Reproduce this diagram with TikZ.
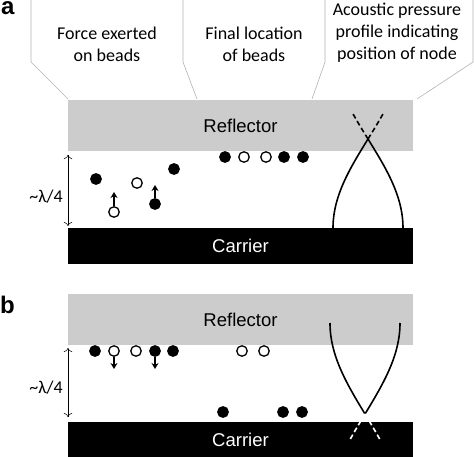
\documentclass[tikz,border=0pt]{standalone}
\usepackage{fontspec}
\setmainfont{Liberation Sans}
\newfontfamily\calfont{Carlito}
\usetikzlibrary{arrows.meta}

\tikzset{
    bead/.style={circle, draw=black, line width=1.3pt, minimum size=10.5pt, inner sep=0pt},
    full/.style={bead, fill=black},
    hollow/.style={bead, fill=white},
    callout/.style={draw=gray!60, line width=0.6pt},
    calltext/.style={align=center, font=\calfont\fontsize{18}{22}\selectfont},
    push/.style={-{Stealth[length=6pt, width=7pt]}, line width=1.5pt},
    gap/.style={{To[length=4pt]}-{To[length=4pt]}, line width=0.5pt},
    quarter/.style={anchor=east, font=\calfont\fontsize{18}{20}\selectfont, inner sep=1pt},
    profile/.style={line width=1.6pt},
    plate/.style={minimum width=345pt, minimum height=51pt, inner sep=0pt, font=\fontsize{18.5}{22}\selectfont},
    base/.style={fill=black, text=white, minimum width=345pt, minimum height=36pt, inner sep=0pt, font=\fontsize{18.5}{22}\selectfont},
    panel/.style={font=\bfseries\fontsize{24}{26}\selectfont, inner sep=0pt, anchor=base west}
}

\begin{document}
\begin{tikzpicture}[x=1pt, y=-1pt]
    \useasboundingbox (0,0) rectangle (474,457);

    % callouts above panel a
    \coordinate (c1) at (68,99);
    \coordinate (c2) at (197,99);
    \coordinate (c3) at (312,99);
    \coordinate (c4) at (417,99);
    \draw[callout] (31,0) -- (31,62) -- (c1);
    \draw[callout] (183,0) -- (183,62) -- (c2);
    \draw[callout] (325,0) -- (325,62) -- (c3);
    \draw[callout] (473,0) -- (473,62) -- (c4);
    \node[calltext] (t1) at (107,44) {Force exerted\\on beads};
    \node[calltext] (t2) at (254,44) {Final location\\of beads};
    \node[calltext] (t3) at (397,33) {Acoustic pressure\\profile indicating\\position of node};

    % panel a: beads pushed up towards the node
    \begin{scope}
        \node[panel] (la) at (1,15) {a};
        \node[plate, fill=gray!40] (refla) at (240.5,125.5) {Reflector};
        \node[base] (cara) at (240.5,246) {Carrier};

        \coordinate (atop) at (68,155);
        \coordinate (abot) at (68,226);
        \draw[gap] (atop) -- (abot);
        \node[quarter] (qa) at (64,197) {\textasciitilde λ/4};

        \node[full] (a1) at (96,179) {};
        \node[hollow] (a2) at (114,212) {};
        \node[hollow] (a3) at (137,183) {};
        \node[full] (a4) at (155,204) {};
        \node[full] (a5) at (174,169) {};
        \coordinate (a2up) at (114,192);
        \coordinate (a4up) at (155,185);
        \draw[push] (a2) -- (a2up);
        \draw[push] (a4) -- (a4up);

        \node[full] (a6) at (225,157) {};
        \node[hollow] (a7) at (244,157) {};
        \node[hollow] (a8) at (266,157) {};
        \node[full] (a9) at (284,157) {};
        \node[full] (a10) at (303,157) {};

        % pressure profile, node at the reflector
        \draw[profile, domain=0:1, samples=40] plot ({368-35*cos(90*\x)}, {228-89*\x});
        \draw[profile, domain=0:1, samples=40] plot ({368+35*cos(90*\x)}, {228-89*\x});
        \draw[profile, dash pattern=on 5pt off 3pt, domain=1:1.3, samples=10] plot ({368-35*cos(90*\x)}, {228-89*\x});
        \draw[profile, dash pattern=on 5pt off 3pt, domain=1:1.3, samples=10] plot ({368+35*cos(90*\x)}, {228-89*\x});
    \end{scope}

    % panel b: beads pushed down towards the node
    \begin{scope}[yshift=-194pt]
        \node[panel] (lb) at (0,119) {b};
        \node[plate, fill=gray!40] (reflb) at (240.5,125.5) {Reflector};
        \node[base] (carb) at (240.5,246) {Carrier};

        \coordinate (btop) at (68,154);
        \coordinate (bbot) at (68,223);
        \draw[gap] (btop) -- (bbot);
        \node[quarter] (qb) at (64,194) {\textasciitilde λ/4};

        \node[full] (b1) at (95,157) {};
        \node[hollow] (b2) at (114,157) {};
        \node[hollow] (b3) at (136,157) {};
        \node[full] (b4) at (155,157) {};
        \node[full] (b5) at (173,157) {};
        \coordinate (b2dn) at (114,175);
        \coordinate (b4dn) at (155,175);
        \draw[push] (b2) -- (b2dn);
        \draw[push] (b4) -- (b4dn);

        \node[hollow] (b6) at (242,157) {};
        \node[hollow] (b7) at (264,157) {};
        \node[full] (b8) at (223,218) {};
        \node[full] (b9) at (283,218) {};
        \node[full] (b10) at (302,218) {};

        % pressure profile, node at the carrier
        \draw[profile, domain=0:1, samples=40] plot ({365-35*cos(90*\x)}, {129+91*\x});
        \draw[profile, domain=0:1, samples=40] plot ({365+35*cos(90*\x)}, {129+91*\x});
        \draw[profile, white, dash pattern=on 5pt off 3pt, domain=1:1.3, samples=10] plot ({365-35*cos(90*\x)}, {129+91*\x});
        \draw[profile, white, dash pattern=on 5pt off 3pt, domain=1:1.3, samples=10] plot ({365+35*cos(90*\x)}, {129+91*\x});
    \end{scope}
\end{tikzpicture}
\end{document}
